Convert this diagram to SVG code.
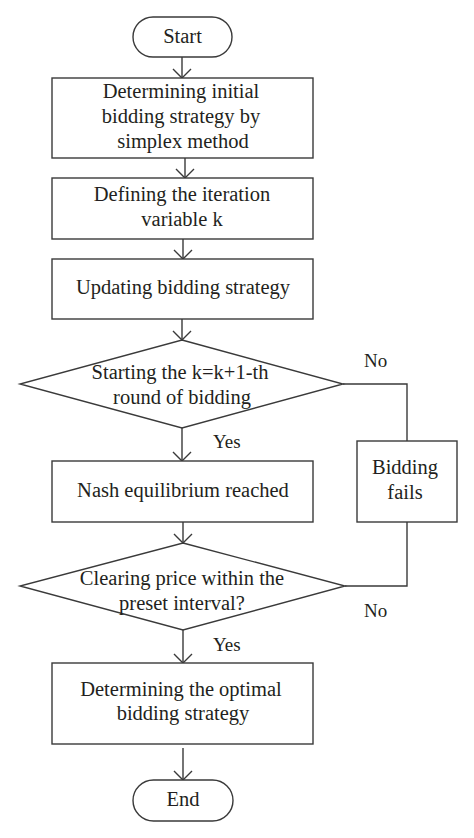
<svg xmlns="http://www.w3.org/2000/svg" width="474" height="838" viewBox="0 0 474 838">
<style>
.s{fill:#fff;stroke:#3a3a3a;stroke-width:1.4}
.t{font-family:"Liberation Serif","Times New Roman",serif;font-size:20.5px;fill:#231f20;text-anchor:middle}
.l{font-family:"Liberation Serif","Times New Roman",serif;font-size:19px;fill:#231f20}
.c{fill:none;stroke:#3a3a3a;stroke-width:1.4}
</style>
<defs>
<marker id="a" viewBox="0 0 20 20" refX="10" refY="10" markerWidth="20" markerHeight="20" markerUnits="userSpaceOnUse" orient="auto">
<path d="M1,1 L10,10 L1,19" fill="none" stroke="#3a3a3a" stroke-width="1.4"/>
</marker>
</defs>
<rect width="474" height="838" fill="#fff"/>
<g id="connectors">
<line class="c" x1="182" y1="57" x2="182" y2="78" marker-end="url(#a)"/>
<line class="c" x1="185" y1="158" x2="185" y2="178" marker-end="url(#a)"/>
<line class="c" x1="183" y1="239" x2="183" y2="259" marker-end="url(#a)"/>
<line class="c" x1="182" y1="319" x2="182" y2="340" marker-end="url(#a)"/>
<line class="c" x1="182" y1="428" x2="182" y2="461" marker-end="url(#a)"/>
<line class="c" x1="183" y1="522" x2="183" y2="543" marker-end="url(#a)"/>
<line class="c" x1="183" y1="630" x2="183" y2="663" marker-end="url(#a)"/>
<line class="c" x1="183" y1="748" x2="183" y2="780" marker-end="url(#a)"/>
<polyline class="c" points="343,384 407,384 407,441"/>
<polyline class="c" points="407,522 407,586 345,586"/>
<text class="l" x="364" y="367">No</text>
<text class="l" x="364" y="617">No</text>
<text class="l" x="213" y="448">Yes</text>
<text class="l" x="213" y="651">Yes</text>
</g>
<g id="start">
<rect class="s" x="133" y="17" width="99" height="40" rx="20"/>
<text class="t" x="182.5" y="43">Start</text>
</g>
<g id="init">
<rect class="s" x="52" y="78" width="261" height="80"/>
<text class="t" x="181" y="98">Determining initial</text>
<text class="t" x="181" y="123">bidding strategy by</text>
<text class="t" x="183" y="148">simplex method</text>
</g>
<g id="define">
<rect class="s" x="52" y="178" width="261" height="61"/>
<text class="t" x="182" y="201">Defining the iteration</text>
<text class="t" x="182" y="226">variable k</text>
</g>
<g id="update">
<rect class="s" x="52" y="259" width="261" height="60"/>
<text class="t" x="183" y="294">Updating bidding strategy</text>
</g>
<g id="round">
<polygon class="s" points="182,340 343,384 182,428 20,384"/>
<text class="t" x="180" y="379">Starting the k=k+1-th</text>
<text class="t" x="182" y="404">round of bidding</text>
</g>
<g id="nash">
<rect class="s" x="52" y="461" width="261" height="61"/>
<text class="t" x="183" y="497">Nash equilibrium reached</text>
</g>
<g id="fails">
<rect class="s" x="357" y="441" width="100" height="81"/>
<text class="t" x="405" y="474">Bidding</text>
<text class="t" x="405" y="499">fails</text>
</g>
<g id="clearing">
<polygon class="s" points="183,543 345,586 183,630 20,586"/>
<text class="t" x="182" y="585">Clearing price within the</text>
<text class="t" x="182" y="610">preset interval?</text>
</g>
<g id="optimal">
<rect class="s" x="52" y="663" width="261" height="81"/>
<text class="t" x="181" y="696">Determining the optimal</text>
<text class="t" x="183" y="720">bidding strategy</text>
</g>
<g id="end">
<rect class="s" x="133" y="780" width="100" height="41" rx="20.5"/>
<text class="t" x="183" y="806">End</text>
</g>
</svg>
